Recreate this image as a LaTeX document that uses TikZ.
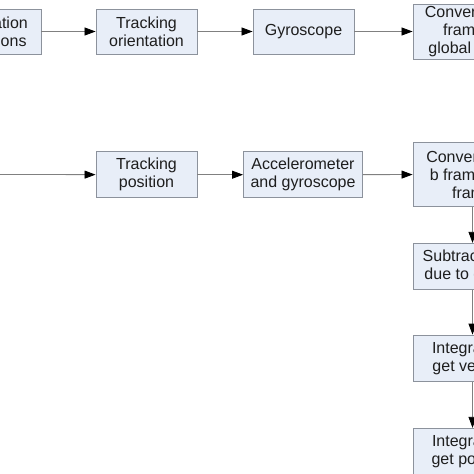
\documentclass[tikz,border=0pt]{standalone}
\usepackage{fontspec}
\setmainfont{Liberation Sans}
\usetikzlibrary{arrows.meta}
\definecolor{boxfill}{RGB}{232,238,248}
\definecolor{boxline}{RGB}{140,146,156}
\definecolor{conn}{RGB}{128,128,128}
\definecolor{txt}{RGB}{30,30,30}
\begin{document}
\begin{tikzpicture}[x=1pt,y=-1pt,
  blk/.style={draw=boxline,fill=boxfill,line width=0.9pt,inner sep=0pt,align=center,
    text=txt,font=\fontsize{16}{18}\selectfont},
  w1/.style={minimum width=101pt},
  w2/.style={minimum width=119pt},
  conn/.style={draw=conn,line width=0.8pt,-{Triangle[length=11pt,width=8pt,color=black]}}]
\useasboundingbox (0,0) rectangle (474,474);
\clip (0,0) rectangle (474,474);
% row 1
\node[blk,w1,minimum height=45pt] (b1) at (-9.5,31.5) {orientation\\conditions};
\node[blk,w1,minimum height=45pt] (b2) at (146.5,31.5) {Tracking\\orientation};
\node[blk,w1,minimum height=45pt] (b3) at (303.5,31.5) {Gyroscope};
\node[blk,w2,minimum height=55pt] (b4) at (472.5,31.5) {Convert body\\frame to\\global frame};
% row 2
\coordinate (a0) at (-10,174.5);
\node[blk,w1,minimum height=46pt] (c2) at (146.5,174.7) {Tracking\\position};
\node[blk,w2,minimum height=46pt] (c3) at (303,174.7) {Accelerometer\\and gyroscope};
\node[blk,w2,minimum height=64.5pt] (c4) at (472.5,174.5) {Convert from\\b frame to n\\frame};
% column
\node[blk,w2,minimum height=46pt] (d1) at (472.5,266.3) {Subtract force\\due to gravity};
\node[blk,w2,minimum height=46.5pt] (d2) at (472.5,358.3) {Integrate to\\get velocity};
\node[blk,w2,minimum height=46pt] (d3) at (472.5,451.3) {Integrate to\\get position};
% connectors
\draw[conn] (b1) -- (b2);
\draw[conn] (b2) -- (b3);
\draw[conn] (b3) -- (b4);
\draw[conn] (a0) -- (c2);
\draw[conn] (c2) -- (c3);
\draw[conn] (c3) -- (c4);
\draw[conn] (c4) -- (d1);
\draw[conn] (d1) -- (d2);
\draw[conn] (d2) -- (d3);
\end{tikzpicture}
\end{document}
